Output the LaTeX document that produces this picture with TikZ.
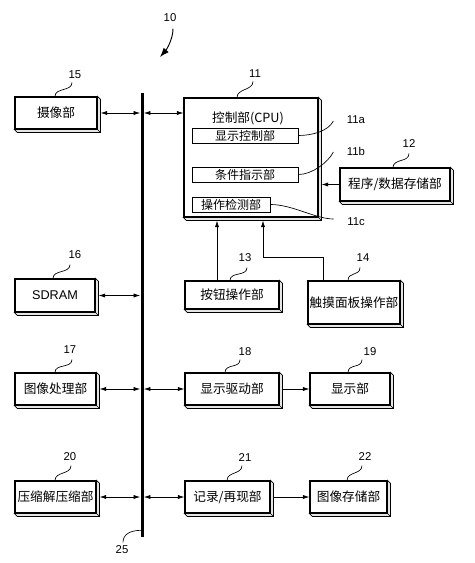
\documentclass[tikz,border=0pt]{standalone}
\usepackage{fontspec}
\setmainfont{Liberation Sans}
\newfontfamily\cjk{Noto Sans CJK SC}
\usetikzlibrary{arrows.meta,calc}
\newcommand\myleader[2]{\draw[lead] #1 .. controls +(0,-9) and +(0,9) .. #2;}
\begin{document}
\begin{tikzpicture}[x=0.75pt,y=-0.75pt,
 sz/.style 2 args={minimum width=#1*0.75pt, minimum height=#2*0.75pt},
 box/.style={draw,line width=0.8pt,fill=white,inner sep=0pt,font=\cjk\fontsize{9.5}{11}\selectfont},
 sub/.style={draw,line width=0.6pt,inner sep=0pt,font=\cjk\fontsize{9}{10}\selectfont},
 lab/.style={font=\fontsize{8.5}{10}\selectfont,inner sep=1pt},
 lead/.style={line width=0.5pt},
 tip/.tip={Latex[length=5pt,width=3.2pt]},
 arr/.style={line width=0.6pt,-tip},
 darr/.style={line width=0.6pt,tip-tip},
 shade/.style={draw,line width=0.5pt,fill=gray!20}]
\useasboundingbox (0,0) rectangle (474,563);

% bus
\node[fill=black,inner sep=0pt,minimum width=2.25pt,minimum height=333pt] (bus) at (142,315) {};

% boxes
\node[box,sz={82}{32}] (b15) at (56,113) {摄像部};
\node[box,sz={134}{119}] (cpu) at (251,157.5) {};
\node[font=\cjk\fontsize{9.5}{11}\selectfont,inner sep=0pt] (cputxt) at (248,118) {控制部(CPU)};
\node[sub,sz={106}{15}] (s11a) at (245,135.5) {显示控制部};
\node[sub,sz={106}{15}] (s11b) at (245,174.5) {条件指示部};
\node[sub,sz={78}{15}] (s11c) at (231,204.5) {操作检测部};
\node[box,sz={110}{33}] (b12) at (395,184.5) {程序/数据存储部};
\node[box,sz={94}{28}] (b13) at (232,295) {按钮操作部};
\node[box,sz={92}{43}] (b14) at (354,302.5) {触摸面板操作部};
\node[box,sz={80}{33},font=\fontsize{9.5}{11}\selectfont] (b16) at (55,295.5) {SDRAM};
\node[box,sz={81}{32}] (b17) at (55.5,389) {图像处理部};
\node[box,sz={94}{32}] (b18) at (232,389) {显示驱动部};
\node[box,sz={80}{32}] (b19) at (350,389) {显示部};
\node[box,sz={81}{32}] (b20) at (55.5,497) {压缩解压缩部};
\node[box,sz={85}{32}] (b21) at (227.5,497) {记录/再现部};
\node[box,sz={77}{32}] (b22) at (348.5,497) {图像存储部};

% 3D edges
\foreach \n in {b15,cpu,b12,b13,b14,b16,b17,b18,b19,b20,b21,b22}{
  \draw[shade] (\n.north east) -- ++(3,3) |- ($(\n.south west)+(3,3)$) -- (\n.south west) -- (\n.south east) -- cycle;
  \draw[line width=0.5pt] (\n.south east) -- ++(3,3);
  \draw[line width=0.8pt] (\n.north east) -- (\n.south east) -- (\n.south west);
}

% labels
\node[lab] (l10) at (170,18) {10};
\node[lab] (l15) at (75,75) {15};
\node[lab] (l11) at (255,74) {11};
\node[lab] (l11a) at (356,120) {11a};
\node[lab] (l11b) at (356,151) {11b};
\node[lab] (l11c) at (356,222) {11c};
\node[lab] (l12) at (409,144) {12};
\node[lab] (l13) at (245,258) {13};
\node[lab] (l14) at (363,258) {14};
\node[lab] (l16) at (75,255) {16};
\node[lab] (l17) at (70,350) {17};
\node[lab] (l18) at (245,352) {18};
\node[lab] (l19) at (370,352) {19};
\node[lab] (l20) at (70,457) {20};
\node[lab] (l21) at (245,458) {21};
\node[lab] (l22) at (365,457) {22};
\node[lab] (l25) at (122,550) {25};

% leaders
\myleader{($(b15.north)+(-1,0)$)}{($(l15.south)+(-3,2)$)}
\myleader{($(cpu.north)+(-14,0)$)}{($(l11.south)+(-2,2)$)}
\myleader{($(b12.north)+(-2,0)$)}{($(l12.south)+(0,4)$)}
\myleader{($(b13.north)+(-2,0)$)}{($(l13.south)+(2,4)$)}
\myleader{($(b14.north)+(-6,0)$)}{($(l14.south)+(-3,4)$)}
\myleader{($(b16.north)+(-2,0)$)}{($(l16.south)+(-5,4)$)}
\myleader{($(b17.north)+(-0.5,0)$)}{($(l17.south)+(2,4)$)}
\myleader{($(b18.north)+(-7,0)$)}{($(l18.south)+(-5,2)$)}
\myleader{($(b19.north)+(-2,0)$)}{($(l19.south)+(-8,2)$)}
\myleader{($(b20.north)+(-0.5,0)$)}{($(l20.south)+(1,3)$)}
\myleader{($(b21.north)+(-0.5,0)$)}{($(l21.south)+(-3,2)$)}
\myleader{($(b22.north)+(-1.5,0)$)}{($(l22.south)+(-3,3)$)}
\draw[lead] (s11a.east) .. controls +(14,0) and +(-5,10) .. ($(l11a.west)+(-12,1)$);
\draw[lead] (s11b.east) .. controls +(14,0) and +(-5,10) .. ($(l11b.west)+(-12,1)$);
\draw[lead] (s11c.east) .. controls +(22,0) and +(-18,0) .. ($(l11c.west)+(-12,-3)$);
\draw[lead] ($(bus.south)+(0,-7)$) .. controls +(-12,0) and +(0,-8) .. ($(l25.north)+(1,-2)$);

% system arrow
\coordinate (sys) at (160,57);
\draw[line width=0.7pt,-{Latex[length=7pt,width=5pt]}] ($(l10.south)+(3,5)$) .. controls +(0,10) and +(7,-8) .. (sys);

% connectors
\coordinate (cpubot) at ($(cpu.south)+(0,3)$);
\coordinate (cpuright) at ($(cpu.east)+(3,0)$);
\draw[darr] ($(b15.east)+(3,0)$) -- (b15.east -| bus.west);
\draw[darr] (b15.east -| bus.east) -- (b15.east -| cpu.west);
\draw[arr] (b12.west) -- (b12.west -| cpuright);
\coordinate (t13) at ($(b13.north)+(-15,0)$);
\draw[arr] (t13) -- (t13 |- cpubot);
\coordinate (t14) at ($(b14.north)+(-31,0)$);
\coordinate (c14) at ($(cpubot)+(12,0)$);
\draw[arr] (t14) -- ++(0,-23) -| (c14);
\draw[darr] ($(b16.east)+(3,0)$) -- (b16.east -| bus.west);
\draw[darr] ($(b17.east)+(3,0)$) -- (b17.east -| bus.west);
\draw[darr] (b18.west -| bus.east) -- (b18.west);
\draw[arr] ($(b18.east)+(3,0)$) -- (b19.west);
\draw[darr] ($(b20.east)+(3,0)$) -- (b20.east -| bus.west);
\draw[darr] (b21.west -| bus.east) -- (b21.west);
\draw[arr] ($(b21.east)+(3,0)$) -- (b22.west);
\end{tikzpicture}
\end{document}
